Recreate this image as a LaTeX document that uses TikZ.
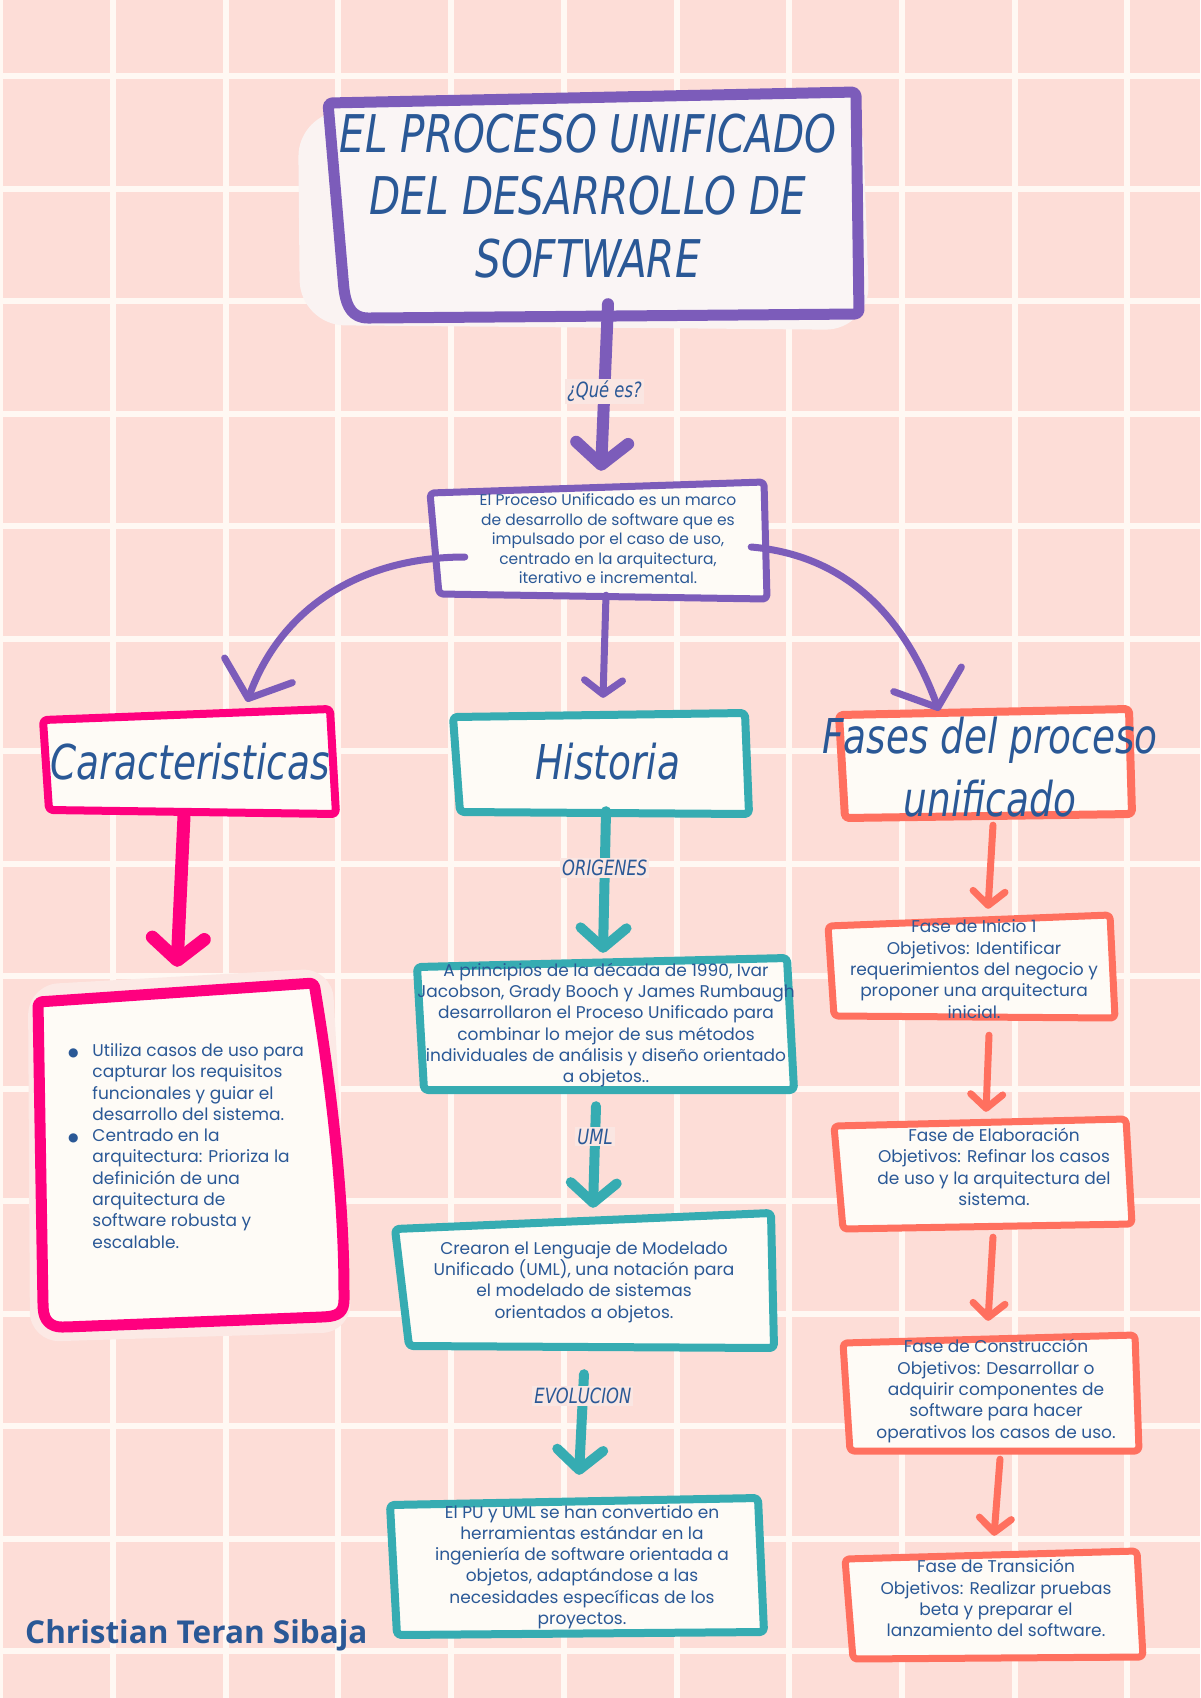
\documentclass[tikz,border=0pt]{standalone}
\usepackage{fontspec}
\setmainfont{Poppins}
\newfontfamily\handfont{DejaVu Sans}[FakeStretch=0.78]
\newfontfamily\symfont{DejaVu Sans}
\newfontfamily\namefont{Open Sans}
\usepackage{tikz}
\usetikzlibrary{calc,arrows.meta}

\definecolor{bgpink}{RGB}{253,221,215}
\definecolor{gridwhite}{RGB}{255,248,243}
\definecolor{blobwhite}{RGB}{250,243,242}
\definecolor{blobpink}{RGB}{252,233,229}
\definecolor{labelbg}{RGB}{250,230,226}
\definecolor{paper}{RGB}{254,251,246}
\definecolor{titlefill}{RGB}{250,245,245}
\definecolor{inkblue}{RGB}{42,88,150}
\definecolor{purpleline}{RGB}{124,92,186}
\definecolor{magentaline}{RGB}{255,0,127}
\definecolor{tealline}{RGB}{54,172,178}
\definecolor{coralline}{RGB}{255,112,95}

\newcommand\boxfont{\fontsize{17}{21.3}\selectfont}
\newcommand\bigdot{{\symfont\fontsize{12}{21.3}\selectfont ●}}

\begin{document}
\begin{tikzpicture}[x=1pt, y=-1pt,
    gridline/.style={draw=gridwhite, line width=6pt},
    frame/.style={draw=#1, fill=paper, line join=round, line cap=round, rounded corners=4pt},
    boxtext/.style={text=inkblue, align=center, inner sep=0pt, font=\boxfont},
    header/.style={text=inkblue, align=center, inner sep=0pt, font=\handfont\itshape\fontsize{48}{63}\selectfont},
    linklabel/.style={text=inkblue, fill=labelbg, inner sep=2pt, font=\handfont\itshape\fontsize{21}{24}\selectfont},
    pstem/.style={draw=purpleline, line width=12pt, line cap=round, -{Straight Barb[round, length=22pt, width=52pt]}},
    pmid/.style={draw=purpleline, line width=7pt, line cap=round, -{Straight Barb[round, length=14pt, width=38pt]}},
    pcurve/.style={draw=purpleline, line width=7pt, line cap=round, -{Straight Barb[round, length=30pt, width=72pt]}},
    mstem/.style={draw=magentaline, line width=13pt, line cap=round, -{Straight Barb[round, length=22pt, width=52pt]}},
    tstem/.style={draw=tealline, line width=10pt, line cap=round, -{Straight Barb[round, length=20pt, width=46pt]}},
    cstem/.style={draw=coralline, line width=7pt, line cap=round, -{Straight Barb[round, length=14pt, width=32pt]}}]

    % Page and grid
    \useasboundingbox (0,0) rectangle (1200,1698);
    \fill[bgpink] (0,0) rectangle (1200,1698);
    \foreach \gx in {0,...,10}
        \draw[gridline] ({0.3+112.7*\gx},0) -- ({0.3+112.7*\gx},1698);
    \foreach \gy in {0,...,14}
        \draw[gridline] (0,{76+112.5*\gy}) -- (1200,{76+112.5*\gy});

    % Soft patches behind the boxes
    \fill[blobwhite, rounded corners=45pt] (298,112) -- (862,100) -- (870,330) -- (300,325) -- cycle;
    \fill[blobpink, rounded corners=30pt] (28,985) -- (332,968) -- (352,1332) -- (30,1342) -- cycle;

    % Frames
    \draw[frame=purpleline, line width=11pt, fill=titlefill] (328,103) -- (856,92) -- (859,314) -- (372,318)
        .. controls (352,318) and (347,306) .. (344,290) -- cycle;
    \draw[frame=purpleline, line width=7pt] (430,493) -- (764,482) -- (767,599) -- (439,594) -- cycle;
    \draw[frame=magentaline, line width=8pt] (43,720) -- (330,709) -- (336,814) -- (49,810) -- cycle;
    \draw[frame=tealline, line width=8pt] (453,717) -- (745,713) -- (749,814) -- (460,812) -- cycle;
    \draw[frame=coralline, line width=8pt] (839,715) -- (1129,709) -- (1132,814) -- (845,818) -- cycle;
    \draw[frame=magentaline, line width=11pt] (38,1002) -- (314,983)
        .. controls (332,1090) and (344,1200) .. (344,1296)
        .. controls (344,1312) and (338,1316) .. (322,1317) -- (66,1327)
        .. controls (50,1327) and (44,1320) .. (43,1305) -- cycle;
    \draw[frame=tealline, line width=8pt] (417,967) -- (787,958) -- (794,1090) -- (424,1090) -- cycle;
    \draw[frame=tealline, line width=8pt] (395,1229) -- (771,1213) -- (774,1348) -- (409,1346) -- cycle;
    \draw[frame=tealline, line width=8pt] (390,1505) -- (758,1498) -- (764,1632) -- (397,1635) -- cycle;
    \draw[frame=coralline, line width=7pt] (828,926) -- (1110,915) -- (1115,1018) -- (834,1016) -- cycle;
    \draw[frame=coralline, line width=7pt] (834,1126) -- (1126,1119) -- (1132,1224) -- (843,1229) -- cycle;
    \draw[frame=coralline, line width=7pt] (843,1343) -- (1135,1335) -- (1139,1451) -- (850,1451) -- cycle;
    \draw[frame=coralline, line width=7pt] (845,1559) -- (1137,1551) -- (1143,1657) -- (853,1659) -- cycle;

    % Texts
    \node[header, font=\handfont\itshape\fontsize{52}{62.5}\selectfont, minimum width=520pt, minimum height=218pt]
        (title) at (588,196) {EL PROCESO UNIFICADO\\DEL DESARROLLO DE\\SOFTWARE};
    \node[boxtext, font=\fontsize{15.5}{19.5}\selectfont, minimum width=330pt, minimum height=112pt]
        (desc) at (608,539) {El Proceso Unificado es un marco\\de desarrollo de software que es\\impulsado por el caso de uso,\\centrado en la arquitectura,\\iterativo e incremental.};
    \node[header, minimum width=288pt, minimum height=100pt] (chars) at (190,762) {Caracteristicas};
    \node[header, minimum width=290pt, minimum height=98pt] (hist) at (608,762) {Historia};
    \node[header, minimum width=288pt, minimum height=104pt] (fases) at (990,767) {Fases del proceso\\unificado};
    \node[boxtext, align=left, minimum width=296pt, minimum height=326pt] (charlist) at (186,1148)
        {\begin{tabular}{@{}l@{\hspace{14pt}}l@{}}
            \bigdot & Utiliza casos de uso para\\
                    & capturar los requisitos\\
                    & funcionales y guiar el\\
                    & desarrollo del sistema.\\
            \bigdot & Centrado en la\\
                    & arquitectura: Prioriza la\\
                    & definición de una\\
                    & arquitectura de\\
                    & software robusta y\\
                    & escalable.
         \end{tabular}};
    \node[boxtext, minimum width=372pt, minimum height=130pt] (orig) at (606,1025)
        {A principios de la década de 1990, Ivar\\Jacobson, Grady Booch y James Rumbaugh\\desarrollaron el Proceso Unificado para\\combinar lo mejor de sus métodos\\individuales de análisis y diseño orientado\\a objetos..};
    \node[boxtext, minimum width=372pt, minimum height=132pt] (umlbox) at (584,1282)
        {Crearon el Lenguaje de Modelado\\Unificado (UML), una notación para\\el modelado de sistemas\\orientados a objetos.};
    \node[boxtext, minimum width=370pt, minimum height=132pt] (evol) at (582,1567)
        {El PU y UML se han convertido en\\herramientas estándar en la\\ingeniería de software orientada a\\objetos, adaptándose a las\\necesidades específicas de los\\proyectos.};
    \node[boxtext, minimum width=284pt, minimum height=100pt] (inicio) at (974,969)
        {Fase de Inicio 1\\Objetivos: Identificar\\requerimientos del negocio y\\proponer una arquitectura\\inicial.};
    \node[boxtext, minimum width=294pt, minimum height=106pt] (elab) at (994,1167)
        {Fase de Elaboración\\Objetivos: Refinar los casos\\de uso y la arquitectura del\\sistema.};
    \node[boxtext, minimum width=294pt, minimum height=112pt] (constr) at (996,1391)
        {Fase de Construcción\\Objetivos: Desarrollar o\\adquirir componentes de\\software para hacer\\operativos los casos de uso.};
    \node[boxtext, minimum width=294pt, minimum height=104pt] (trans) at (996,1598)
        {Fase de Transición\\Objetivos: Realizar pruebas\\beta y preparar el\\lanzamiento del software.};
    \node[anchor=west, text=inkblue, inner sep=0pt, font=\namefont\bfseries\fontsize{31.5}{36}\selectfont]
        (author) at (25,1635) {Christian Teran Sibaja};

    % Connectors
    \draw[pstem] ([xshift=20pt,yshift=1pt]title.south) -- ([xshift=-7pt,yshift=12pt]desc.north)
        node[midway, yshift=-4pt, linklabel] {¿Qué es?};
    \draw[pcurve] ([xshift=22pt,yshift=-18pt]desc.west) to[out=180,in=70] ([xshift=57pt,yshift=10pt]chars.north);
    \draw[pcurve] ([xshift=-22pt,yshift=-8pt]desc.east) to[out=-5,in=110] ([xshift=-51pt,yshift=4pt]fases.north);
    \draw[pmid] ([xshift=-2pt]desc.south) -- ([xshift=-5pt,yshift=15pt]hist.north);
    \draw[mstem] ([xshift=-6pt,yshift=-4pt]chars.south) -- ([xshift=-9pt,yshift=18pt]charlist.north);
    \draw[tstem] ([xshift=-2pt]hist.south) -- ([xshift=-3pt,yshift=7pt]orig.north)
        node[pos=0.4, linklabel] {ORIGENES};
    \draw[tstem] ([xshift=-10pt,yshift=-16pt]orig.south) -- ([xshift=9pt,yshift=8pt]umlbox.north)
        node[pos=0.3, linklabel] {UML};
    \draw[tstem] ([yshift=-26pt]umlbox.south) -- ([xshift=-3pt,yshift=26pt]evol.north)
        node[pos=0.22, linklabel] {EVOLUCION};
    \draw[cstem] ([xshift=3pt,yshift=-6pt]fases.south) -- ([xshift=14pt,yshift=10pt]inicio.north);
    \draw[cstem] ([xshift=15pt,yshift=-16pt]inicio.south) -- ([xshift=-8pt,yshift=2pt]elab.north);
    \draw[cstem] ([xshift=-1pt,yshift=-17pt]elab.south) -- ([xshift=-8pt,yshift=14pt]constr.north);
    \draw[cstem] ([xshift=4pt,yshift=-12pt]constr.south) -- ([xshift=-2pt,yshift=10pt]trans.north);
\end{tikzpicture}
\end{document}
